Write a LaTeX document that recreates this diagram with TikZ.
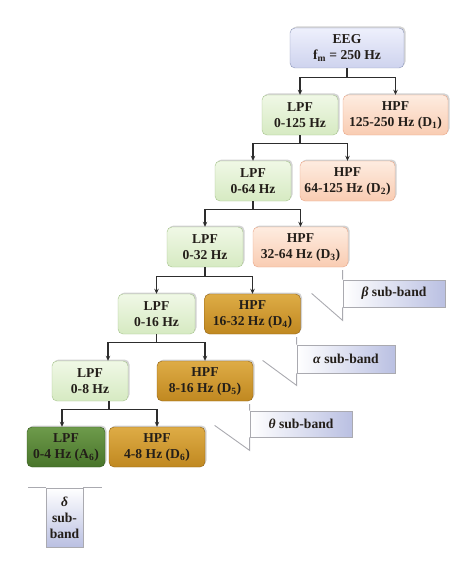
\documentclass[tikz,border=0pt]{standalone}
\usepackage{fontspec}
\setmainfont{Liberation Serif}
\usetikzlibrary{arrows.meta,shadows}

\definecolor{txt}{RGB}{35,30,25}
\definecolor{eegtop}{RGB}{238,240,252}
\definecolor{eegbot}{RGB}{206,211,238}
\definecolor{eegline}{RGB}{140,150,185}
\definecolor{lpftop}{RGB}{240,248,230}
\definecolor{lpfbot}{RGB}{214,234,194}
\definecolor{lpfline}{RGB}{165,195,140}
\definecolor{saltop}{RGB}{254,236,224}
\definecolor{salbot}{RGB}{249,204,178}
\definecolor{salline}{RGB}{232,165,135}
\definecolor{goldtop}{RGB}{222,172,70}
\definecolor{goldbot}{RGB}{192,136,32}
\definecolor{goldline}{RGB}{145,98,22}
\definecolor{dgtop}{RGB}{110,155,75}
\definecolor{dgbot}{RGB}{72,116,42}
\definecolor{dgline}{RGB}{52,88,30}
\definecolor{lav}{RGB}{186,192,226}
\definecolor{callline}{RGB}{170,170,176}
\definecolor{wire}{RGB}{45,45,45}

\begin{document}
\begin{tikzpicture}[x=1pt,y=1pt,yscale=-1,
  box/.style={draw, rounded corners=5pt, minimum height=40, align=center, inner sep=1pt,
    font=\fontsize{13.6}{16}\selectfont\bfseries, text=txt,
    drop shadow={shadow xshift=1.5pt, shadow yshift=1.5pt, opacity=0.35}},
  eegbox/.style={box, draw=eegline, top color=eegtop, bottom color=eegbot, minimum width=114},
  lpf/.style={box, draw=lpfline, top color=lpftop, bottom color=lpfbot, minimum width=76},
  lpfdark/.style={box, draw=dgline, top color=dgtop, bottom color=dgbot, minimum width=78},
  hpf/.style={box, draw=salline, top color=saltop, bottom color=salbot, minimum width=95},
  hpfgold/.style={box, draw=goldline, top color=goldtop, bottom color=goldbot, minimum width=96},
  wirearr/.style={draw=wire, line width=1.1pt, -{Stealth[length=5pt,width=4.5pt]}},
  callbox/.style={draw=callline, line width=0.8pt, inner sep=1pt, align=center,
    font=\fontsize{13.6}{16}\selectfont\bfseries, text=txt},
  calledge/.style={draw=callline, line width=0.9pt}
]
\useasboundingbox (0,0) rectangle (474,575);

% Filter nodes
\node[eegbox] (eeg) at (347,48) {EEG\\f\textsubscript{m} = 250 Hz};
\node[lpf] (lpfA) at (300,115) {LPF\\0-125 Hz};
\node[hpf, minimum width=105] (hpfA) at (395.5,115) {HPF\\125-250 Hz (D\textsubscript{1})};
\node[lpf] (lpfB) at (253,181) {LPF\\0-64 Hz};
\node[hpf] (hpfB) at (347.5,181) {HPF\\64-125 Hz (D\textsubscript{2})};
\node[lpf] (lpfC) at (205,247) {LPF\\0-32 Hz};
\node[hpf] (hpfC) at (300.5,247) {HPF\\32-64 Hz (D\textsubscript{3})};
\node[lpf, minimum width=77] (lpfD) at (156.5,314) {LPF\\0-16 Hz};
\node[hpfgold] (hpfD) at (252.5,314) {HPF\\16-32 Hz (D\textsubscript{4})};
\node[lpf] (lpfE) at (90,381) {LPF\\0-8 Hz};
\node[hpfgold] (hpfE) at (205,381) {HPF\\8-16 Hz (D\textsubscript{5})};
\node[lpfdark] (lpfF) at (66,447) {LPF\\0-4 Hz (A\textsubscript{6})};
\node[hpfgold] (hpfF) at (157,447) {HPF\\4-8 Hz (D\textsubscript{6})};

% Splits
\draw[wirearr] (eeg.south) -- ++(0,9) -| (lpfA.north);
\draw[wirearr] (eeg.south) -- ++(0,9) -| (hpfA.north);
\draw[wirearr] (lpfA.south) -- ++(0,8) -| (lpfB.north);
\draw[wirearr] (lpfA.south) -- ++(0,8) -| (hpfB.north);
\draw[wirearr] (lpfB.south) -- ++(0,8) -| (lpfC.north);
\draw[wirearr] (lpfB.south) -- ++(0,8) -| (hpfC.north);
\draw[wirearr] (lpfC.south) -- ++(0,9) -| (lpfD.north);
\draw[wirearr] (lpfC.south) -- ++(0,9) -| (hpfD.north);
\draw[wirearr] (lpfD.south) -- ++(0,8) -| ([xshift=18]lpfE.north);
\draw[wirearr] (lpfD.south) -- ++(0,8) -| (hpfE.north);
\draw[wirearr] ([xshift=19]lpfE.south) -- ++(0,8) -| ([xshift=-4]lpfF.north);
\draw[wirearr] ([xshift=19]lpfE.south) -- ++(0,8) -| (hpfF.north);

% Sub-band callouts
\node[callbox, left color=white, right color=lav, minimum width=102, minimum height=27] (beta) at (394,293.5) {\textit{β} sub-band};
\draw[calledge] (beta.north west |- hpfC.south) ++(0,3) -- (beta.north west) (beta.south west) -- ++(0,13) -- ++(-31,-27);
\node[callbox, left color=white, right color=lav, minimum width=98, minimum height=28] (alpha) at (346,359) {\textit{α} sub-band};
\draw[calledge] (alpha.north west |- hpfD.south) ++(0,3) -- (alpha.north west) (alpha.south west) -- ++(0,12) -- ++(-34,-25);
\node[callbox, left color=white, right color=lav, minimum width=102, minimum height=26] (theta) at (301,424) {\textit{θ} sub-band};
\draw[calledge] (theta.north west |- hpfE.south) ++(0,3) -- (theta.north west) (theta.south west) -- ++(0,13) -- ++(-35,-25);
\node[callbox, top color=white, bottom color=lav, minimum width=37, minimum height=59] (delta) at (64.5,517.5) {\textit{δ}\\sub-\\band};
\draw[calledge] (delta.north west) -- ++(-18,0) (delta.north east) -- ++(19,0);
\end{tikzpicture}
\end{document}
